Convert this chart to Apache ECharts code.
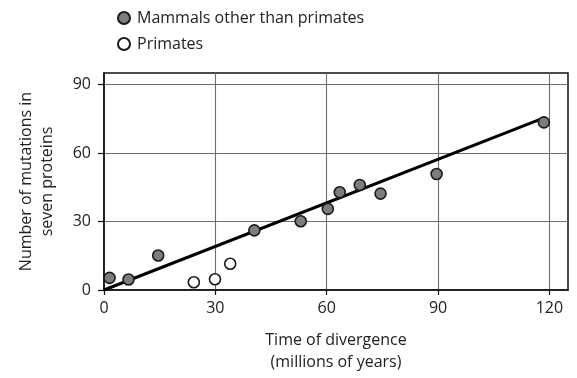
<!DOCTYPE html>
<html>
<head>
<meta charset="utf-8">
<script src="https://cdn.jsdelivr.net/npm/echarts@6/dist/echarts.min.js"></script>
<style>html,body{margin:0;padding:0;background:#fff}#c{width:577px;height:378px}</style>
</head>
<body>
<div id="c"></div>
<script>
// Mammals other than primates: [time of divergence (My), mutations]
var mammals = [
  [1.5, 5.3], [6.6, 4.6], [14.6, 15.1], [40.5, 26.1], [53, 30.1],
  [60.3, 35.5], [63.5, 42.8], [68.9, 46], [74.5, 42.2], [89.6, 50.8], [118.5, 73.4]
];
// Primates
var primates = [[24.2, 3.4], [29.9, 4.7], [34, 11.5]];
// Fitted line endpoints
var fitLine = [[0, 0], [118, 75]];
var xTicks = [0, 30, 60, 90, 120];
var yTicks = [0, 30, 60, 90];

var font = '"Open Sans", sans-serif';
var txt = '#222';
var chart = echarts.init(document.getElementById('c'), null, {renderer: 'canvas'});
chart.setOption({
  animation: false,
  backgroundColor: '#fff',
  grid: {left: 104, right: 9, top: 73, bottom: 86, show: true, borderColor: '#111', borderWidth: 1.5, backgroundColor: 'transparent'},
  legend: {
    orient: 'vertical', left: 112, top: 5, itemGap: 10, itemWidth: 12, itemHeight: 12,
    icon: 'circle',
    textStyle: {fontFamily: font, fontSize: 16, color: txt, padding: [0, 0, 0, 2]},
    data: ['Mammals other than primates', 'Primates']
  },
  xAxis: {
    type: 'value', min: 0, max: 125, interval: 30,
    name: 'Time of divergence\n(millions of years)', nameLocation: 'middle', nameGap: 39,
    nameTextStyle: {fontFamily: font, fontSize: 16, color: txt, lineHeight: 22},
    axisLine: {show: true, lineStyle: {color: '#111', width: 1.5}},
    axisTick: {show: true, length: 5, customValues: xTicks, lineStyle: {color: '#111', width: 1.2}},
    axisLabel: {customValues: xTicks, margin: 10, fontFamily: font, fontSize: 16, color: txt},
    splitLine: {show: true, lineStyle: {color: '#6e6e6e', width: 1.1}}
  },
  yAxis: {
    type: 'value', min: 0, max: 95, interval: 15,
    name: 'Number of mutations in\nseven proteins', nameLocation: 'middle', nameGap: 46,
    nameTextStyle: {fontFamily: font, fontSize: 16, color: txt, lineHeight: 21},
    axisLine: {show: true, lineStyle: {color: '#111', width: 1.5}},
    axisTick: {show: true, length: 6, customValues: yTicks, lineStyle: {color: '#111', width: 1.2}},
    axisLabel: {customValues: yTicks, margin: 13, fontFamily: font, fontSize: 16, color: txt},
    splitLine: {show: true, lineStyle: {color: '#6e6e6e', width: 1.1}}
  },
  series: [
    {
      name: 'Fit', type: 'line', data: fitLine, symbol: 'none', silent: true,
      lineStyle: {color: '#000', width: 3}, z: 2
    },
    {
      name: 'Mammals other than primates', type: 'scatter', data: mammals, symbol: 'circle', symbolSize: 11,
      itemStyle: {color: '#7d7d7d', borderColor: '#1a1a1a', borderWidth: 1.6, opacity: 1}, z: 3
    },
    {
      name: 'Primates', type: 'scatter', data: primates, symbol: 'circle', symbolSize: 11,
      itemStyle: {color: '#fff', borderColor: '#1a1a1a', borderWidth: 1.6, opacity: 1}, z: 3
    }
  ]
});
</script>
</body>
</html>
